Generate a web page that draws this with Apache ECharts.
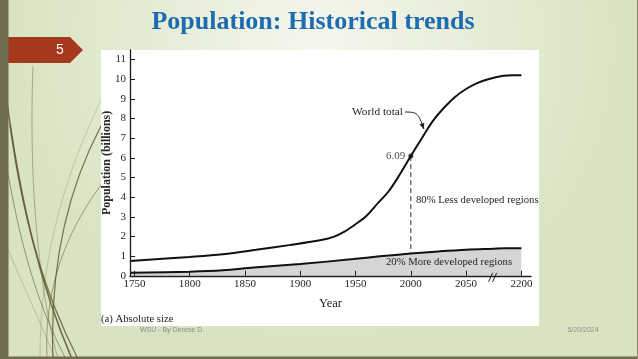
<!DOCTYPE html>
<html><head><meta charset="utf-8">
<script src="https://cdn.jsdelivr.net/npm/echarts@6/dist/echarts.min.js"></script>
<style>html,body{margin:0;padding:0;width:638px;height:359px;overflow:hidden;background:#e6edd6}#c{width:638px;height:359px}</style>
</head><body><div id="c"></div>
<script>
// ---- data ----
const worldYears  = [1746,1800,1830,1860,1890,1920,1930,1940,1950,1960,1970,1980,1990,2000,2010,2020,2030,2040,2050,2060,2070,2118,2160,2200];
const worldValues = [0.75,0.96,1.1,1.32,1.56,1.83,1.98,2.25,2.62,3.05,3.68,4.3,5.15,6.09,7.0,7.88,8.55,9.1,9.5,9.8,10.0,10.17,10.2,10.2];
const moreDevYears  = [1746,1800,1830,1858,1900,1948,1972,2000,2025,2050,2075,2125,2200];
const moreDevValues = [0.15,0.21,0.28,0.42,0.6,0.85,0.99,1.13,1.24,1.33,1.38,1.4,1.4];
const xTickYears  = [1750,1800,1850,1900,1950,2000,2050,2200];
const xTickLabels = ['1750','1800','1850','1900','1950','2000','2050','2200'];
const yTickValues = [0,1,2,3,4,5,6,7,8,9,10,11];
const markYear = 2000;
const markValue = 6.09;
const markLabel = '6.09';

// broken time axis: 2075..2200 is squeezed into 2075..2100
const breakStart = 2075, breakEnd = 2200, breakDisplayEnd = 2100;
function toAxis(y){ return y <= breakStart ? y : breakStart + (y - breakStart) * (breakDisplayEnd - breakStart) / (breakEnd - breakStart); }

const serif = '"Liberation Serif", "Times New Roman", serif';
const ink = '#1e1e1e';
const chart = echarts.init(document.getElementById('c'));

const xTickPos = xTickYears.map(toAxis);
const worldData = worldYears.map((y,i)=>[toAxis(y), worldValues[i]]);
const moreDevData = moreDevYears.map((y,i)=>[toAxis(y), moreDevValues[i]]);
const lowerAtMark = moreDevValues[moreDevYears.indexOf(markYear)];

chart.setOption({
  animation:false,
  grid:{left:130, right:107, top:50, bottom:83.2},
  xAxis:{
    type:'value', min:1746, max:2108.7, z:5,
    axisLine:{lineStyle:{color:ink, width:1.3}},
    axisTick:{inside:true, length:5, customValues:xTickPos, lineStyle:{color:ink, width:1}},
    axisLabel:{
      customValues:xTickPos, margin:3, color:ink, fontFamily:serif, fontSize:11,
      formatter:function(v){
        let i = xTickPos.findIndex(p=>Math.abs(p-v)<0.01);
        return i<0 ? '' : xTickLabels[i];
      }
    },
    splitLine:{show:false},
    name:'Year', nameLocation:'middle', nameGap:21, nameMoveOverlap:false,
    nameTextStyle:{fontFamily:serif, fontSize:12.5, color:ink}
  },
  yAxis:{
    type:'value', min:0, max:11.485, z:5,
    axisLine:{show:true, lineStyle:{color:ink, width:1.3}},
    axisTick:{show:true, inside:true, length:5, customValues:yTickValues, lineStyle:{color:ink, width:1}},
    axisLabel:{customValues:yTickValues, margin:4, color:ink, fontFamily:serif, fontSize:11},
    splitLine:{show:false},
    name:'Population (billions)', nameLocation:'middle', nameGap:17, nameMoveOverlap:false,
    nameTextStyle:{fontFamily:serif, fontSize:12, fontWeight:'bold', color:'#2a2a2a'}
  },
  series:[
    {type:'line', data:moreDevData, smooth:0.35, symbol:'none', z:2,
     lineStyle:{color:'#111', width:2}, areaStyle:{color:'#d5d5d5', opacity:1}},
    {type:'line', data:worldData, smooth:0.35, symbol:'none', z:3,
     lineStyle:{color:'#111', width:2}},
    {type:'line', data:[[toAxis(markYear), markValue],[toAxis(markYear), lowerAtMark]], symbol:'none', z:3,
     lineStyle:{color:'#333', width:1, type:[5,3]}},
    {type:'scatter', data:[[toAxis(markYear), markValue]], symbolSize:5, z:4, itemStyle:{color:'#111'},
     label:{show:true, position:'left', distance:3, formatter:markLabel, fontFamily:serif, fontSize:11, color:ink}}
  ]
});

// annotations anchored in data space
const pWorld = chart.convertToPixel('grid',[1992.9, 8.33]);
const pArrowEnd = chart.convertToPixel('grid',[2011.9, 7.46]);
const pLess = chart.convertToPixel('grid',[2004.7, 3.86]);
const pMore = chart.convertToPixel('grid',[1977.5, 0.67]);
const pBreak = chart.convertToPixel('grid',[2073.1, 0]);

const sx = pWorld[0]+2, sy = pWorld[1];
const ex = pArrowEnd[0], ey = pArrowEnd[1];
const c1x = sx+13, c1y = sy, c2x = ex-6, c2y = ey-16;
let dx = ex-c2x, dy = ey-c2y, dl = Math.hypot(dx,dy); dx/=dl; dy/=dl;
const bx = ex-6*dx, by = ey-6*dy, px = -dy, py = dx;

const decoColor = '#5f5b38';
function deco(x1,y1,cx1,cy1,cx2,cy2,x2,y2,w,op){
  return {type:'bezierCurve', z:-9, silent:true,
    shape:{x1:x1,y1:y1,cpx1:cx1,cpy1:cy1,cpx2:cx2,cpy2:cy2,x2:x2,y2:y2},
    style:{fill:null, stroke:decoColor, lineWidth:w, opacity:op}};
}

chart.setOption({
  graphic:[
    {type:'rect', z:-10, silent:true, shape:{x:0,y:0,width:638,height:359},
     style:{fill:{type:'radial', x:0.5, y:0.12, r:0.85, colorStops:[{offset:0,color:'#f4f7ee'},{offset:1,color:'#d9e3c1'}]}}},
    deco(6,95, 20,200, 40,285, 72,359, 1.6, 0.9),
    deco(10,125, 24,230, 48,300, 78,359, 1.2, 0.85),
    deco(4,150, 20,250, 40,310, 66,359, 1.0, 0.6),
    deco(33,66, 28,200, 42,300, 58,359, 0.8, 0.55),
    deco(53,359, 50,280, 62,200, 101,126, 1.2, 0.85),
    deco(47,359, 44,300, 60,240, 101,185, 0.9, 0.6),
    deco(40,359, 40,270, 58,190, 101,100, 0.8, 0.3),
    deco(0,230, 20,280, 40,320, 55,359, 0.8, 0.35),
    {type:'rect', z:-8, silent:true, shape:{x:101,y:50,width:438,height:276}, style:{fill:'#ffffff'}},
    {type:'polygon', z:-7, silent:true, shape:{points:[[0,37],[70,37],[83,50],[70,63],[0,63]]}, style:{fill:'#a5381d'}},
    {type:'rect', z:-6, silent:true, shape:{x:0,y:0,width:8.5,height:359}, style:{fill:'#716b52'}},
    {type:'rect', z:-6, silent:true, shape:{x:0,y:356.5,width:638,height:3}, style:{fill:'#716b52'}},
    {type:'rect', z:-6, silent:true, shape:{x:637,y:0,width:1,height:359}, style:{fill:'#8a8468'}},
    {type:'text', z:10, silent:true, style:{text:'5', x:60, y:50, align:'center', verticalAlign:'middle', font:'14px "Liberation Sans", Arial, sans-serif', fill:'#ffffff'}},
    {type:'text', z:10, silent:true, style:{text:'Population: Historical trends', x:313, y:22, align:'center', verticalAlign:'middle', font:'bold 26px "Liberation Serif", serif', fill:'#1d6cb1'}},
    {type:'text', z:10, silent:true, style:{text:'World total', x:pWorld[0], y:pWorld[1], align:'right', verticalAlign:'middle', font:'11.3px '+serif, fill:ink}},
    {type:'bezierCurve', z:10, silent:true, shape:{x1:sx,y1:sy,cpx1:c1x,cpy1:c1y,cpx2:c2x,cpy2:c2y,x2:ex,y2:ey}, style:{fill:null, stroke:'#222', lineWidth:1}},
    {type:'polygon', z:10, silent:true, shape:{points:[[ex,ey],[bx+2.5*px,by+2.5*py],[bx-2.5*px,by-2.5*py]]}, style:{fill:'#222'}},
    {type:'text', z:10, silent:true, style:{text:'80% Less developed regions', x:pLess[0], y:pLess[1], align:'left', verticalAlign:'middle', font:'10.7px '+serif, fill:ink}},
    {type:'text', z:10, silent:true, style:{text:'20% More developed regions', x:pMore[0], y:pMore[1], align:'left', verticalAlign:'middle', font:'10.7px '+serif, fill:ink}},
    {type:'line', z:10, silent:true, shape:{x1:pBreak[0]-3,y1:pBreak[1]+6,x2:pBreak[0]+1,y2:pBreak[1]-3}, style:{stroke:'#222', lineWidth:1}},
    {type:'line', z:10, silent:true, shape:{x1:pBreak[0]+1,y1:pBreak[1]+6,x2:pBreak[0]+5,y2:pBreak[1]-3}, style:{stroke:'#222', lineWidth:1}},
    {type:'text', z:10, silent:true, style:{text:'(a) Absolute size', x:101, y:319, align:'left', verticalAlign:'middle', font:'10.7px '+serif, fill:ink}},
    {type:'text', z:10, silent:true, style:{text:'WSU - By Derese D.', x:140, y:330, align:'left', verticalAlign:'middle', font:'7px "Liberation Sans", Arial, sans-serif', fill:'#8c8c8c'}},
    {type:'text', z:10, silent:true, style:{text:'5/20/2024', x:583, y:330, align:'center', verticalAlign:'middle', font:'7px "Liberation Sans", Arial, sans-serif', fill:'#8c8c8c'}}
  ]
});
</script></body></html>
